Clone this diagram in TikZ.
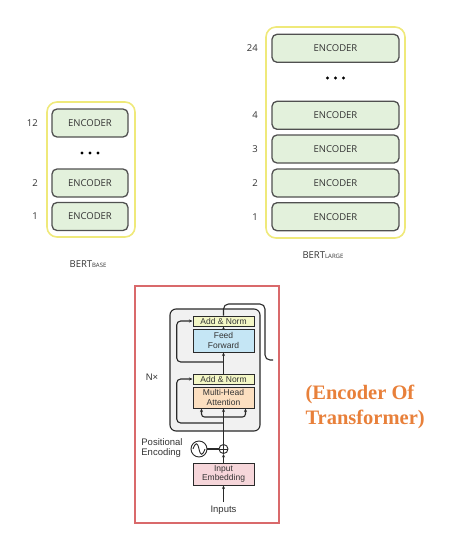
\documentclass[tikz,border=0pt]{standalone}
\usepackage{fontspec}
\setmainfont{Liberation Serif}
\newfontfamily\encfont{Open Sans}
\newfontfamily\trfont{Liberation Sans}
\usetikzlibrary{arrows.meta}
\definecolor{encfill}{HTML}{E3F1DC}
\definecolor{encline}{HTML}{505050}
\definecolor{yel}{HTML}{EFE97A}
\definecolor{txt}{HTML}{333333}
\definecolor{redline}{HTML}{D9696B}
\definecolor{grayfill}{HTML}{F1F1F1}
\definecolor{blkline}{HTML}{2A2A2A}
\definecolor{anfill}{HTML}{F4F7C6}
\definecolor{fffill}{HTML}{C5E6F5}
\definecolor{mhafill}{HTML}{FCDFC0}
\definecolor{embfill}{HTML}{F6D6DA}
\definecolor{orng}{HTML}{E8803A}
\begin{document}
\begin{tikzpicture}[x=1pt,y=-1pt,
  enc/.style={draw=encline,fill=encfill,line width=1.3pt,rounded corners=5pt,minimum height=28pt,inner sep=0pt,font=\encfont\fontsize{9.5}{10}\selectfont,text=txt},
  num/.style={anchor=east,font=\encfont\fontsize{9.5}{10}\selectfont,text=txt},
  blk/.style={draw=blkline,line width=1pt,minimum width=61pt,inner sep=0pt,align=center,font=\trfont\fontsize{8.5}{9.5}\selectfont,text=txt},
  lbl/.style={font=\trfont\fontsize{9.5}{10.5}\selectfont,text=txt},
  arr/.style={-{Stealth[length=3.5pt,width=3pt]},line width=1.1pt,draw=blkline},
  wire/.style={line width=1.1pt,draw=blkline}]
\useasboundingbox (0,0) rectangle (474,551);

% BERT base
\draw[draw=yel,line width=1.6pt,rounded corners=10pt] (47,102) rectangle (135,237);
\node[enc,minimum width=76pt] (b1) at (90,216.5) {ENCODER};
\node[enc,minimum width=76pt] (b2) at (90,183) {ENCODER};
\node[enc,minimum width=76pt] (b12) at (90,123) {ENCODER};
\node[num] (nb1) at ([xshift=-10pt]b1.west) {1};
\node[num] (nb2) at ([xshift=-10pt]b2.west) {2};
\node[num] (nb12) at ([xshift=-10pt]b12.west) {12};
\foreach \i in {-8,0,8} \fill[black] (90+\i,153) circle (1.7pt);
\node[font=\encfont\fontsize{9.5}{10}\selectfont,text=txt] (lbase) at (88,264) {BERT{\fontsize{6}{6}\selectfont BASE}};

% BERT large
\draw[draw=yel,line width=1.6pt,rounded corners=10pt] (266,27) rectangle (405,238);
\node[enc,minimum width=127pt] (l1) at (335.5,216.7) {ENCODER};
\node[enc,minimum width=127pt] (l2) at (335.5,183) {ENCODER};
\node[enc,minimum width=127pt] (l3) at (335.5,149) {ENCODER};
\node[enc,minimum width=127pt] (l4) at (335.5,115.3) {ENCODER};
\node[enc,minimum width=127pt] (l24) at (335.5,48.3) {ENCODER};
\node[num] (nl1) at ([xshift=-10pt]l1.west) {1};
\node[num] (nl2) at ([xshift=-10pt]l2.west) {2};
\node[num] (nl3) at ([xshift=-10pt]l3.west) {3};
\node[num] (nl4) at ([xshift=-10pt]l4.west) {4};
\node[num] (nl24) at ([xshift=-10pt]l24.west) {24};
\foreach \i in {-8,0,8} \fill[black] (335.5+\i,78) circle (1.7pt);
\node[font=\encfont\fontsize{9.5}{10}\selectfont,text=txt] (llarge) at (323,255) {BERT{\fontsize{6}{6}\selectfont LARGE}};

% encoder of the transformer
\draw[draw=redline,line width=1.1pt] (135,286) rectangle (279,523);
\draw[draw=blkline,fill=grayfill,line width=1.1pt,rounded corners=6pt] (170,309) rectangle (260,431);
\node[blk,fill=anfill,minimum height=10pt] (an1) at (223.5,321) {Add \& Norm};
\node[blk,fill=fffill,minimum height=23pt] (ff) at (223.5,340.5) {Feed\\Forward};
\node[blk,fill=anfill,minimum height=10pt] (an2) at (223.5,379) {Add \& Norm};
\node[blk,fill=mhafill,minimum height=21pt] (mha) at (223.5,397.5) {Multi-Head\\Attention};
\node[blk,fill=embfill,minimum height=22pt] (emb) at (223.5,474) {Input\\Embedding};
\node[lbl] (inp) at (223.5,510) {Inputs};
\node[lbl] (nx) at (152,377) {N×};
\node[lbl,align=left] (pe) at (162,448) {Positional\\Encoding};
\node[draw=blkline,circle,minimum size=9pt,inner sep=0pt,line width=0.9pt] (plus) at (223.5,449) {};
\draw[line width=0.9pt,draw=blkline] (plus.north) -- (plus.south) (plus.west) -- (plus.east);
\node[draw=blkline,circle,minimum size=16pt,inner sep=0pt,line width=0.9pt] (sine) at (199,449) {};
\draw[line width=0.9pt,draw=blkline] (193,449) .. controls (195.5,442) and (197.5,442) .. (199,449) .. controls (200.5,456) and (202.5,456) .. (205,449);
\coordinate (r1) at (223.5,362);
\coordinate (r2) at (223.5,423);
\coordinate (br) at (223.5,417);
\coordinate (out) at (273,360);

\draw[arr] (inp) -- (emb);
\draw[arr] (emb) -- (plus);
\draw[wire] (sine) -- (plus);
\draw[arr] (plus) -- (mha);
\draw[arr,rounded corners=3pt] (br) -| ([xshift=-22pt]mha.south);
\draw[arr,rounded corners=3pt] (br) -| ([xshift=22pt]mha.south);
\draw[arr,rounded corners=4pt] (r2) -- (176.7,423) |- (an2.west);
\draw[arr] (an2) -- (ff);
\draw[arr,rounded corners=4pt] (r1) -- (176.7,362) |- (an1.west);
\draw[arr] (ff) -- (an1);
\draw[wire,rounded corners=5pt] (an1.north) |- (265,304) -- (265,360) -- (out);

\node[anchor=west,align=left,font=\bfseries\fontsize{20.5}{25}\selectfont,text=orng] (title) at (302,406.5) {(Encoder Of\\Transformer)};
\end{tikzpicture}
\end{document}
